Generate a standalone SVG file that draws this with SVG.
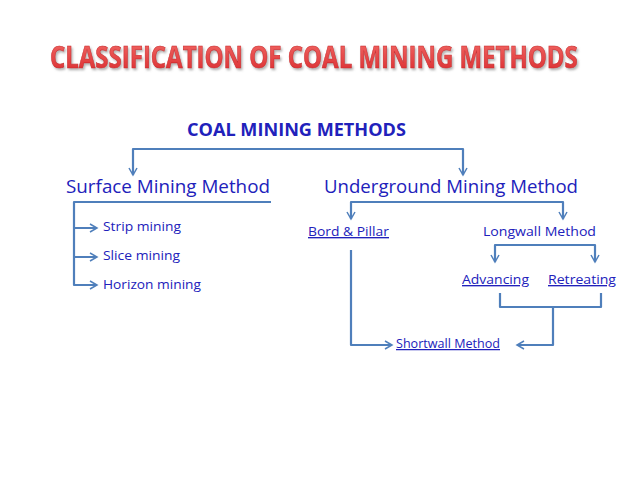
<svg xmlns="http://www.w3.org/2000/svg" width="638" height="478" viewBox="0 0 638 478">
<defs>
<style>
.t{font-family:"Open Sans","Liberation Sans",sans-serif;fill:#2121bb}
.u{text-decoration:underline}
.c{fill:none;stroke:#4f7fbb;stroke-width:2.2;stroke-linejoin:round}
.a{fill:none;stroke:#4f7fbb;stroke-width:1.5}
</style>
<linearGradient id="rg" x1="0" y1="0" x2="0" y2="1">
<stop offset="0" stop-color="#f4706c"/>
<stop offset="1" stop-color="#d8262a"/>
</linearGradient>
<filter id="sh" filterUnits="userSpaceOnUse" x="-100" y="-100" width="1200" height="250">
<feDropShadow dx="2" dy="2" stdDeviation="1.2" flood-color="#808080" flood-opacity="0.6"/>
</filter>
</defs>
<rect width="638" height="478" fill="#ffffff"/>
<g id="title" transform="translate(50,68) scale(0.7,1)">
<text x="0" y="0" font-family="'Open Sans','Liberation Sans',sans-serif" font-weight="bold" font-size="30" fill="url(#rg)" stroke="#c8282a" stroke-width="0.6" filter="url(#sh)" textLength="754" lengthAdjust="spacingAndGlyphs">CLASSIFICATION OF COAL MINING METHODS</text>
</g>
<g id="root"><text class="t" x="187" y="136" font-size="17" font-weight="bold" textLength="219" lengthAdjust="spacingAndGlyphs">COAL MINING METHODS</text></g>
<g id="surface"><text class="t" x="66" y="193" font-size="18" textLength="204" lengthAdjust="spacingAndGlyphs">Surface Mining Method</text></g>
<g id="underground"><text class="t" x="324" y="193" font-size="18" textLength="254" lengthAdjust="spacingAndGlyphs">Underground Mining Method</text></g>
<g id="strip"><text class="t" x="103" y="231" font-size="13.5" textLength="78" lengthAdjust="spacingAndGlyphs">Strip mining</text></g>
<g id="slice"><text class="t" x="103" y="260" font-size="13.5" textLength="77" lengthAdjust="spacingAndGlyphs">Slice mining</text></g>
<g id="horizon"><text class="t" x="103" y="289" font-size="13.5" textLength="98" lengthAdjust="spacingAndGlyphs">Horizon mining</text></g>
<g id="bord"><text class="t u" x="308" y="236" font-size="13.5" textLength="81" lengthAdjust="spacingAndGlyphs">Bord &amp; Pillar</text></g>
<g id="longwall"><text class="t" x="483" y="236" font-size="13.5" textLength="113" lengthAdjust="spacingAndGlyphs">Longwall Method</text></g>
<g id="advancing"><text class="t u" x="462" y="284" font-size="13.5" textLength="67" lengthAdjust="spacingAndGlyphs">Advancing</text></g>
<g id="retreating"><text class="t u" x="548" y="284" font-size="13.5" textLength="68" lengthAdjust="spacingAndGlyphs">Retreating</text></g>
<g id="shortwall"><text class="t u" x="396" y="348" font-size="12.5" textLength="104" lengthAdjust="spacingAndGlyphs">Shortwall Method</text></g>
<g id="connectors">
<path class="c" d="M133 175 V149 H463 V175"/>
<path class="a" d="M129 168 L133 175 L137 168 M459 168 L463 175 L467 168"/>
<path class="c" d="M271 202 H74 V285 H96 M74 228 H96 M74 257 H96"/>
<path class="a" d="M90 224 L97 228 L90 232 M90 253 L97 257 L90 261 M90 281 L97 285 L90 289"/>
<path class="c" d="M351 219 V202 H563 V219"/>
<path class="a" d="M347 212 L351 219 L355 212 M559 212 L563 219 L567 212"/>
<path class="c" d="M495 262 V245 H595 V262"/>
<path class="a" d="M491 255 L495 262 L499 255 M591 255 L595 262 L599 255"/>
<path class="c" d="M351 250 V345 H391"/>
<path class="a" d="M385 341 L392 345 L385 349"/>
<path class="c" d="M500 293 V307 H601 V293 M553 307 V345 H518"/>
<path class="a" d="M524 341 L517 345 L524 349"/>
</g>
</svg>
